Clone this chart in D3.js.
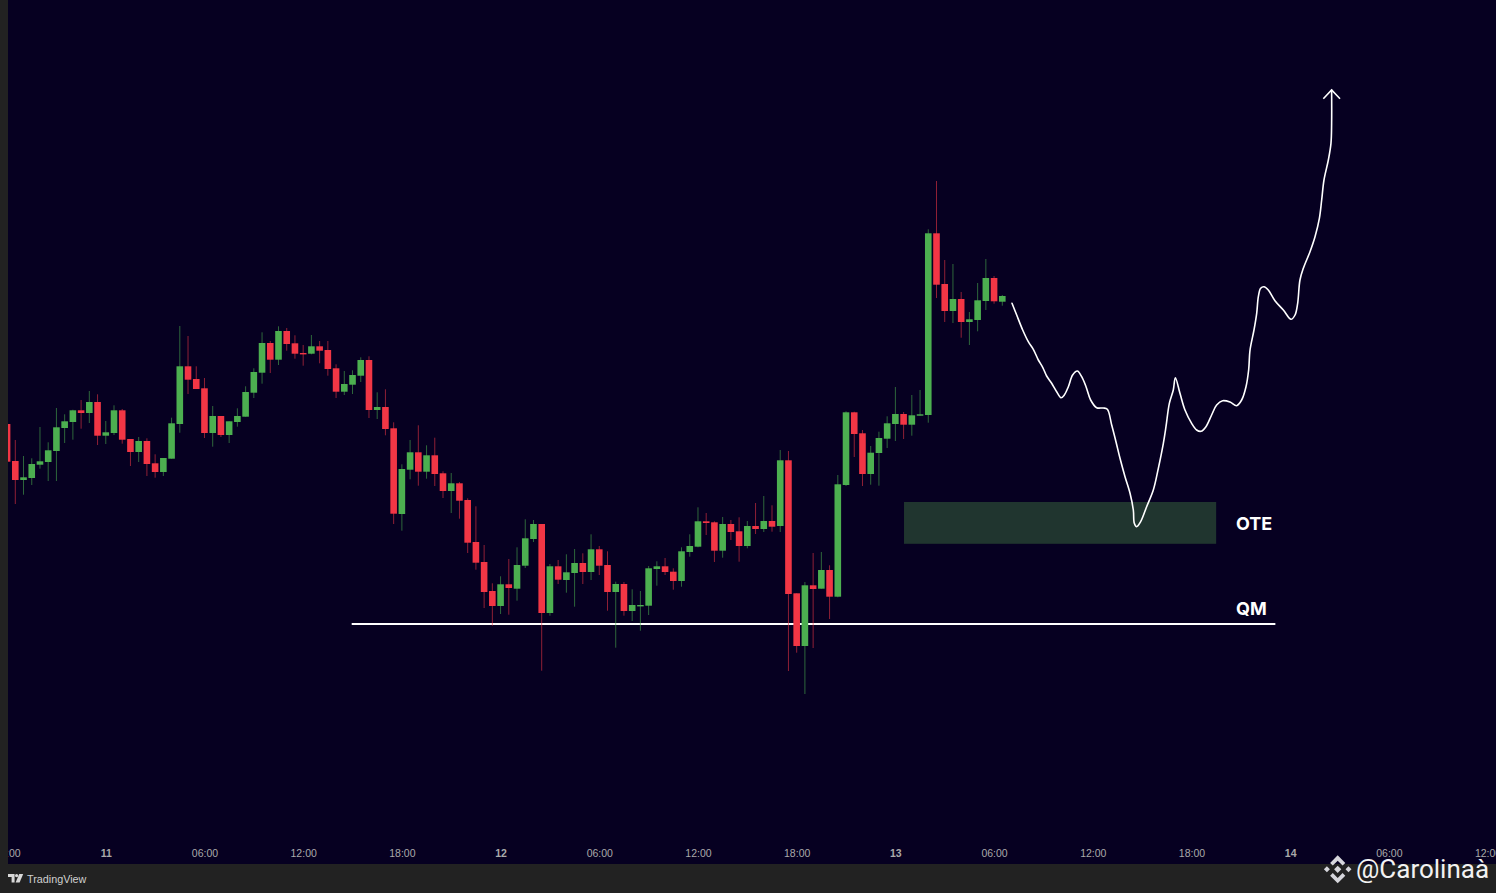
<!DOCTYPE html>
<html><head><meta charset="utf-8">
<script src="https://cdn.jsdelivr.net/npm/d3@7/dist/d3.min.js"></script>
<style>html,body{margin:0;padding:0;background:#222;overflow:hidden}svg{display:block}</style>
</head><body><svg id="c" width="1496" height="893"></svg>
<script>
// 30-minute candles, first bar index = -1
const firstBar = -1;
const opens = [576,539,520,522,535.3,538,549,572,578,589.7,587,598,564.3,567,589.7,561,548,559,536.7,528,541.3,576,633.7,621,611.7,567,584,565,578,583.3,607.3,627.3,657,640.3,669,656.7,647,646.3,653.7,650,631.7,608.3,615.3,624.3,640,590,593,571.7,486,530.3,547.7,528.3,544.7,526.7,509,516.7,500,458,438,409,394,415.7,411.3,434.3,461,476,387,433.7,420,427,437,428,450.7,435,408,416,389,394.3,394.3,431,433.7,428.3,419,448,453.3,478.7,477.7,449.3,476,468.7,454,474,471,479,474,539.7,406.7,354,414.7,411.3,430,403.3,515,587.7,566.7,526,547,561.3,576,586,575.3,584.3,585,766.7,716,689,701,678,680,699,722,698.3];
const highs = [576,560,544,541.7,573,557.7,592,585.7,590.3,600,609,605.7,579,594.7,591,561,563,561.7,545.7,542,582.3,674,664,633.7,622,594,584,578.7,591.7,613.7,631.7,667.7,659,673.7,672,664.7,655,665,659,659,635.7,629,629.7,642.7,643.7,607.7,610.7,577.7,535.7,560,574.7,554.7,562.3,528.7,527,518,501.7,493.7,455,416.7,423.7,441,452.7,480.7,480,476,436,440,445.7,451,446.7,465.7,454,448.7,418.3,418,410.7,409,434,438.7,442,431.7,452.7,465.7,492.7,487,478.7,483,480,482.7,479,497,504,494.7,550,549,406.7,418,447,448,434.7,525,588.7,588.3,570,554,568.3,583.7,613,588,605,610,770.7,819,740,736,708,688,717,741,724,705];
const lows = [538.3,496,505.3,515,531.3,519,519,557,560.3,571.3,577,555,556,565,556.3,534,538,524,522.3,524,541.3,567.3,606,611,562,553.3,563,557,573.3,583.3,602,616.3,627,635,649.3,641.3,634.3,645.7,636.7,624.3,602,605,606,618,582,581,564.7,476,469.3,520.7,514.3,521.3,514,502,487,481.3,447,430.3,392,374.3,386,385.3,399.3,432,458,329.3,384.3,416,407.3,393.3,416,420,425,389.3,352.3,384.3,379,369.3,385,414.3,425,410.3,413.3,443.3,452.7,465,438,442.3,460,438.3,451.7,466,468,468.3,468,329,347.3,306,352,411.3,381,402.7,514,543,514,515.3,514.3,552,559,561,564.3,584.3,577.3,702,678,677,662.3,655,668.7,690,696.3,694.3];
const closes = [538.3,520,522.7,536,538.7,549.7,572.7,578.7,589.7,587,598,564.3,567.7,589.7,560.3,548,559,536,528,542,576.7,633.7,620.3,611,567,584,565,578.7,584,608,628,657,640.3,669,656,646.3,646.3,653.7,649.3,631,608.3,616,625,640,590,593,571,486.3,531,547.7,528.3,544.7,526,509,516.7,499.3,457.3,437.3,408,394,415.7,412,435,461.7,476,387,433.7,420.3,427.7,437,428,450.7,434.3,408,416,389,395,395,431.7,433.7,428,419,448.7,454,478.7,477,449.3,476,468,454,474,471,479,473.3,539.7,406,354,414.7,411,430,403.3,515.7,587.7,566,526,547.3,562,576.7,586,575.3,584.7,585.7,766.7,715.3,689,701,678,680.7,699.7,722,698.7,704];

// Time axis
const tickBars = [-1,11,23,35,47,59,71,83,95,107,119,131,143,155,167,179];
const tickLabels = ["18:00","11","06:00","12:00","18:00","12","06:00","12:00","18:00","13","06:00","12:00","18:00","14","06:00","12:00"];
const dayLabels = ["11","12","13","14"];

// Annotations
const qmLevel = 376, qmFrom = 40.9, qmTo = 153.2;
const oteTop = 498, oteBottom = 456.2, oteFrom = 108.05, oteTo = 146;
// Hand-drawn projection (bar index, price)
const sketchBars = [121.18,121.75,122.48,123.16,123.77,124.38,124.91,125.39,126,126.61,127.14,127.54,128.03,128.55,129.12,129.65,130.18,130.74,131.47,132.28,132.77,133.3,133.82,134.31,134.92,135.53,135.93,136.05,136.34,136.82,137.55,138.36,138.97,139.58,139.9,140.31,140.79,141.04,141.6,142.21,143.02,143.63,144.16,144.76,145.45,146.06,146.79,147.68,148.49,149.1,149.63,149.95,150.12,150.6,150.93,151.13,151.41,151.82,152.34,153.15,154.17,155.1,155.59,155.91,156.19,156.6,157.41,158.02,158.55,158.83,159.11,159.64,159.96,160.04,160.04];
const sketchPrices = [696.7,685,670,658.3,650.7,640,632.7,624,616.7,608.3,602.3,605,613.3,625,629,623.3,613.3,600,592.3,592,590.7,575,558.3,541.7,523.3,506.7,490,476.7,473.3,478.3,493.3,510,531.7,556.7,573.3,596.7,610,622.3,606.7,590,576.7,570,568.7,573.3,585,595,599.3,598,594.3,600,613.3,630,650,670,686.7,703.3,711.7,713.3,710,699.3,690,680.7,685,696.7,720,731.7,748.3,763.3,781.7,800,820,840,856.7,876.7,910];
const arrowBars = [159.03,160.04,161.06];
const arrowPrices = [901.3,910,901.3];

const W = 1496, H = 893, barTop = 864, stripW = 8;
const BG = "#060021", PANEL = "#222222", UP = "#4caf50", DOWN = "#f23645";

const x = d3.scaleLinear().domain([0,120]).range([15.3,15.3+8.225*120]);
const y = d3.scaleLinear().domain([136,1000]).range([864,0]);

const svg = d3.select("#c");
svg.append("defs").append("clipPath").attr("id","pane").append("rect")
  .attr("x",stripW).attr("y",0).attr("width",W-stripW).attr("height",barTop);
svg.append("rect").attr("width",W).attr("height",H).attr("fill",PANEL);
const pane = svg.append("g").attr("clip-path","url(#pane)");
pane.append("rect").attr("width",W).attr("height",barTop).attr("fill",BG);

// OTE zone
pane.append("rect").attr("x",x(oteFrom)).attr("width",x(oteTo)-x(oteFrom))
  .attr("y",y(oteTop)).attr("height",y(oteBottom)-y(oteTop)).attr("fill","#20352f");
// QM level
pane.append("line").attr("x1",x(qmFrom)).attr("x2",x(qmTo)).attr("y1",y(qmLevel)).attr("y2",y(qmLevel))
  .attr("stroke","#fff").attr("stroke-width",2);

// Candles
const candles = opens.map((o,i)=>({bar:firstBar+i,o,h:highs[i],l:lows[i],c:closes[i],up:closes[i]>=o}));
const g = pane.selectAll("g.candle").data(candles).join("g").attr("class","candle");
g.append("line").attr("x1",d=>x(d.bar)).attr("x2",d=>x(d.bar)).attr("y1",d=>y(d.h)).attr("y2",d=>y(d.l))
  .attr("stroke",d=>d.up?UP:DOWN).attr("stroke-width",1).attr("stroke-opacity",.58);
g.append("rect").attr("x",d=>x(d.bar)-3.3).attr("width",6.6)
  .attr("y",d=>y(Math.max(d.o,d.c))).attr("height",d=>Math.max(1.4,Math.abs(y(d.o)-y(d.c))))
  .attr("fill",d=>d.up?UP:DOWN);

// Sketch
const line = d3.line().x(d=>x(d[0])).y(d=>y(d[1])).curve(d3.curveCatmullRom.alpha(.5));
pane.append("path").attr("d",line(sketchBars.map((b,i)=>[b,sketchPrices[i]])))
  .attr("fill","none").attr("stroke","#fff").attr("stroke-width",1.6).attr("stroke-linecap","round");
pane.append("path").attr("d",d3.line().x(d=>x(d[0])).y(d=>y(d[1]))(arrowBars.map((b,i)=>[b,arrowPrices[i]])))
  .attr("fill","none").attr("stroke","#fff").attr("stroke-width",1.6);

// Labels
const lab = (t,px,py)=>pane.append("text").attr("x",px).attr("y",py).text(t)
  .attr("fill","#fff").attr("font-family","Inter,'Liberation Sans',sans-serif").attr("font-size",18).attr("font-weight",700);
lab("OTE",1236,530);
lab("QM",1236,615);

// Axis
const axis = d3.axisBottom(x).tickValues(tickBars).tickSize(0).tickPadding(0)
  .tickFormat((d,i)=>tickLabels[i]);
const ag = pane.append("g").attr("transform","translate(0,849)").call(axis);
ag.select(".domain").remove();
ag.selectAll("text").attr("font-family","'Liberation Sans',Arial,sans-serif").attr("font-size",10.5)
  .attr("fill","#aaaaaa").attr("dy",0).attr("y",8)
  .attr("font-weight",(d,i)=>dayLabels.includes(tickLabels[i])?700:400);

// Footer: TradingView brand
const tv = svg.append("g").attr("transform","translate(8,874)").attr("fill","#d8d8d8");
tv.append("path").attr("d","M0 0H6.6V8.4H3.6V3H0Z");
tv.append("circle").attr("cx",8.6).attr("cy",1.6).attr("r",1.6);
tv.append("path").attr("d","M11.2 0H15.2L11.6 8.4H7.6Z");
svg.append("text").attr("x",27).attr("y",882.5).text("TradingView").attr("fill","#d0d0d0")
  .attr("font-family","'Liberation Sans',Arial,sans-serif").attr("font-size",10.8);

// Watermark
const bx = svg.append("g").attr("transform","translate(1337.7,869.3)").attr("fill","#d6d6dc");
const dia = (cx,cy,r)=>`M${cx} ${cy-r}L${cx+r} ${cy}L${cx} ${cy+r}L${cx-r} ${cy}Z`;
bx.append("path").attr("d",dia(0,0,3.6)+dia(-10.8,0,3)+dia(10.8,0,3));
bx.append("path").attr("d","M0 -14L7.6 -6.4L4.9 -3.8L0 -8.6L-4.9 -3.8L-7.6 -6.4Z");
bx.append("path").attr("d","M0 14L7.6 6.4L4.9 3.8L0 8.6L-4.9 3.8L-7.6 6.4Z");
svg.append("text").attr("x",1356).attr("y",878).text("@Carolinaà").attr("fill","#f2f2f2")
  .attr("font-family","Roboto,sans-serif").attr("font-size",26);
</script></body></html>
